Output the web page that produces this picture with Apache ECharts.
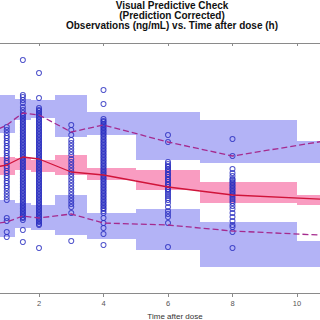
<!DOCTYPE html>
<html>
<head>
<meta charset="utf-8">
<script src="https://cdn.jsdelivr.net/npm/echarts@6/dist/echarts.min.js"></script>
<style>
    html, body { margin: 0; padding: 0; background: #fff; }
    #vpc_chart { width: 320px; height: 320px; }
</style>
</head>
<body>
<div id="vpc_chart"></div>
<script>

// Data
// ------------------------------

// Bin edges (time after dose, h)
var binStart = [0, 1.25, 1.75, 2.5, 3.5, 5, 7, 10];
var binEnd = [1.25, 1.75, 2.5, 3.5, 5, 7, 10, 12];

// Confidence intervals of the simulated percentiles, per bin
var upperCiLow = [160, 173, 175, 156, 158, 133, 130, 130];
var upperCiHigh = [198, 194, 193, 198, 181, 181, 173, 152];
var medianCiLow = [118, 123, 121, 118, 113, 103, 90, 88];
var medianCiHigh = [136, 135, 133, 138, 125, 123, 111, 98];
var lowerCiLow = [56, 65, 63, 58, 54, 43, 26, 26];
var lowerCiHigh = [93, 90, 88, 98, 80, 84, 71, 52];

// Observed percentiles
var lineTimes = [0.5, 1, 1.5, 2, 3, 4, 6, 8, 12];
var observedMedian = [125, 128, 136, 134, 121, 118, 106, 98, 92];
var observedUpper = [160, 168, 180, 178, 161, 168, 151, 137, 158];
var observedLower = [69, 71, 77, 75, 79, 70, 68, 62, 56];

// Observations (prediction corrected)
var obsTimes = [1, 1.5, 2, 3, 4, 6, 8];
var obsValues = [
    [166, 163, 160, 157, 155, 152, 150, 147, 145, 142, 140, 137, 135, 132, 130, 127, 125, 122, 120, 117, 115, 112, 110, 107, 105, 102, 99, 96, 93, 75, 72, 61, 56],
    [233, 198, 196, 193, 190, 186, 183, 180, 178, 177, 175, 174, 172, 171, 169, 168, 166, 165, 163, 162, 160, 159, 157, 156, 154, 153, 151, 150, 148, 147, 145, 144, 142, 141, 139, 138, 136, 135, 133, 132, 130, 129, 127, 126, 124, 123, 121, 120, 118, 117, 115, 114, 112, 111, 109, 108, 106, 105, 103, 102, 100, 99, 97, 96, 94, 93, 91, 90, 88, 87, 85, 84, 82, 81, 79, 78, 76, 75, 73, 63, 51],
    [220, 195, 185, 183, 182, 180, 179, 177, 176, 174, 173, 171, 170, 168, 167, 165, 164, 162, 161, 159, 158, 156, 155, 153, 152, 150, 149, 147, 146, 144, 143, 141, 140, 138, 137, 135, 134, 132, 131, 129, 128, 126, 125, 123, 122, 120, 119, 117, 116, 114, 113, 111, 110, 108, 107, 105, 104, 102, 101, 99, 98, 96, 95, 93, 92, 90, 89, 87, 86, 84, 83, 81, 80, 78, 77, 75, 74, 72, 71, 69, 68, 45],
    [168, 163, 158, 153, 150, 147, 144, 141, 138, 134, 131, 128, 125, 122, 119, 116, 113, 110, 107, 104, 101, 98, 95, 92, 89, 86, 80, 52],
    [203, 189, 174, 172, 171, 169, 168, 166, 165, 163, 162, 160, 159, 157, 156, 154, 153, 151, 150, 148, 147, 145, 144, 142, 141, 139, 138, 136, 135, 133, 132, 130, 129, 127, 126, 124, 123, 121, 120, 118, 117, 115, 114, 112, 111, 109, 108, 106, 105, 103, 102, 100, 99, 97, 96, 94, 93, 91, 90, 88, 87, 85, 84, 82, 80, 75, 70, 65, 59, 48],
    [158, 151, 131, 129, 127, 126, 124, 123, 121, 119, 118, 116, 114, 113, 111, 109, 108, 106, 104, 103, 101, 99, 97, 95, 93, 90, 86, 82, 79, 76, 70, 46],
    [154, 137, 124, 120, 117, 114, 113, 111, 110, 108, 107, 105, 104, 102, 101, 99, 98, 96, 94, 92, 90, 87, 84, 80, 76, 72, 68, 66, 61, 45]
];

// Text
var titleLines = ['Visual Predictive Check', '(Prediction Corrected)', 'Observations (ng/mL) vs. Time after dose (h)'];
var xAxisName = 'Time after dose';


// Setup module
// ------------------------------

var EchartsVpc = function() {

    // Build [start, end, low, high] rows for a band
    var _bandRows = function(low, high) {
        return binStart.map(function(s, i) {
            return [s, binEnd[i], low[i], high[i]];
        });
    };

    // Build [time, value] pairs for a line
    var _linePairs = function(values) {
        return lineTimes.map(function(t, i) {
            return [t, values[i]];
        });
    };

    // Step rectangles drawn through the axes
    var _bandSeries = function(name, rows, color) {
        return {
            name: name,
            type: 'custom',
            z: 1,
            silent: true,
            encode: { x: [0, 1], y: [2, 3] },
            renderItem: function(params, api) {
                var p0 = api.coord([api.value(0), api.value(3)]);
                var p1 = api.coord([api.value(1), api.value(2)]);
                var x0 = Math.round(p0[0]), y0 = Math.round(p0[1]);
                var x1 = Math.round(p1[0]), y1 = Math.round(p1[1]);
                return {
                    type: 'rect',
                    shape: { x: x0, y: y0, width: x1 - x0, height: y1 - y0 },
                    style: { fill: color }
                };
            },
            data: rows
        };
    };

    var _vpcChart = function() {
        if (typeof echarts == 'undefined') {
            console.warn('Warning - echarts.min.js is not loaded.');
            return;
        }

        var vpc_element = document.getElementById('vpc_chart');
        if (!vpc_element) return;

        var vpc_chart = echarts.init(vpc_element, null, { renderer: 'svg' });

        // Observation points
        var obsData = [];
        obsTimes.forEach(function(t, i) {
            obsValues[i].forEach(function(v) {
                obsData.push([t, v]);
            });
        });

        vpc_chart.setOption({
            animation: false,
            backgroundColor: '#fff',

            textStyle: {
                fontFamily: 'Liberation Sans, Arial, sans-serif'
            },

            // Plot area runs past the left and right edges
            grid: {
                left: -25.5,
                right: -41.5,
                top: 43,
                bottom: 27,
                containLabel: false,
                outerBoundsMode: 'none'
            },

            // Titles
            graphic: [
                {
                    type: 'text',
                    x: 172,
                    y: 0,
                    style: {
                        text: titleLines.join('\n'),
                        align: 'center',
                        verticalAlign: 'top',
                        font: 'bold 10px "Liberation Sans", Arial, sans-serif',
                        lineHeight: 10,
                        fill: '#111'
                    }
                },
                {
                    type: 'text',
                    x: 175,
                    y: 312,
                    style: {
                        text: xAxisName,
                        align: 'center',
                        verticalAlign: 'top',
                        font: '8px "Liberation Sans", Arial, sans-serif',
                        fill: '#333'
                    }
                }
            ],

            // Horizontal axes
            xAxis: [
                {
                    type: 'value',
                    position: 'bottom',
                    min: 0,
                    max: 12,
                    interval: 2,
                    axisLine: { show: true, lineStyle: { color: '#8a8a8a', width: 1 } },
                    axisTick: { show: true, length: 4, lineStyle: { color: '#8a8a8a' } },
                    axisLabel: { fontSize: 7.5, color: '#555', margin: 6, showMinLabel: false, showMaxLabel: false },
                    splitLine: { show: false }
                },
                {
                    type: 'value',
                    position: 'top',
                    min: 0,
                    max: 12,
                    interval: 2,
                    axisLine: { show: true, lineStyle: { color: '#8a8a8a', width: 1 } },
                    axisTick: { show: true, inside: true, length: 3, lineStyle: { color: '#8a8a8a' } },
                    axisLabel: { show: false },
                    splitLine: { show: false }
                }
            ],

            // Vertical axis (outside the picture)
            yAxis: {
                type: 'value',
                min: 0,
                max: 250,
                show: false
            },

            series: [
                _bandSeries('Upper CI', _bandRows(upperCiLow, upperCiHigh), '#b3b3f6'),
                _bandSeries('Lower CI', _bandRows(lowerCiLow, lowerCiHigh), '#b3b3f6'),
                _bandSeries('Median CI', _bandRows(medianCiLow, medianCiHigh), '#f99cc1'),

                {
                    name: 'Observations',
                    type: 'scatter',
                    z: 2,
                    symbol: 'circle',
                    symbolSize: 5,
                    itemStyle: { color: 'rgba(0,0,0,0)', borderColor: '#2a2fc0', borderWidth: 1.1 },
                    data: obsData
                },

                {
                    name: 'Median',
                    type: 'line',
                    z: 3,
                    symbol: 'none',
                    lineStyle: { color: '#d0143a', width: 1.3 },
                    data: _linePairs(observedMedian)
                },
                {
                    name: 'Upper',
                    type: 'line',
                    z: 3,
                    symbol: 'none',
                    lineStyle: { color: '#a52a8e', width: 1.3, type: [6, 3] },
                    data: _linePairs(observedUpper)
                },
                {
                    name: 'Lower',
                    type: 'line',
                    z: 3,
                    symbol: 'none',
                    lineStyle: { color: '#a52a8e', width: 1.3, type: [6, 3] },
                    data: _linePairs(observedLower)
                }
            ]
        });
    };

    return {
        init: function() {
            _vpcChart();
        }
    }
}();


// Initialize module
// ------------------------------

document.addEventListener('DOMContentLoaded', function() {
    EchartsVpc.init();
});
</script>
</body>
</html>
